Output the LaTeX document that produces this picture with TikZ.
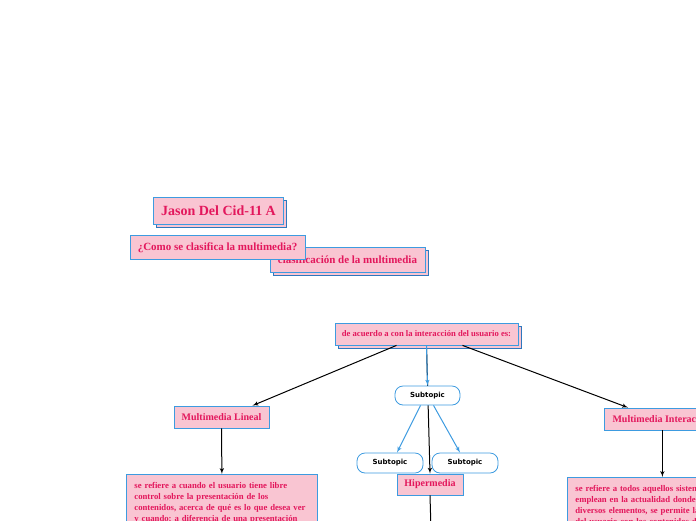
\documentclass[tikz,border=0pt]{standalone}
\usepackage{fontspec}
\setmainfont{Liberation Serif}
\newfontfamily\subfont{DejaVu Sans}
\usetikzlibrary{arrows,shadows,backgrounds}

\definecolor{pinkfill}{HTML}{F9C5D2}
\definecolor{boxblue}{HTML}{3D9BE0}
\definecolor{shadeblue}{HTML}{2E78BE}
\definecolor{pinktext}{HTML}{E3175C}

\begin{document}
\begin{tikzpicture}[x=1pt,y=-1pt]
	
	\tikzset{topic/.style = {shape=rectangle,draw=boxblue,fill=pinkfill,line width=0.8pt,text=pinktext,font=\bfseries,inner sep=0pt}}
	\tikzset{shade/.style = {general shadow={draw=shadeblue,fill=pinkfill,line width=0.8pt,shadow xshift=3pt,shadow yshift=-3pt}}}
	\tikzset{subtopic/.style = {shape=rectangle,rounded corners=8pt,draw=boxblue,fill=white,line width=0.8pt,font=\subfont\bfseries\fontsize{7}{8}\selectfont,minimum width=66pt,minimum height=20pt}}
	\tikzset{note/.style = {topic,anchor=north west,align=left,inner sep=8pt,text width=175pt,font=\bfseries\fontsize{8.7}{11}\selectfont}}
	\tikzset{edge/.style = {->,> = latex',line width=1pt}}
	\tikzset{bluedge/.style = {edge,draw=boxblue}}
	
	\clip (0,0) rectangle (696,520);
	\useasboundingbox (0,0) rectangle (696,520);
	
	\node[topic,shade,minimum width=130pt,minimum height=27pt,font=\bfseries\fontsize{14}{16}\selectfont] (name) at (218.5,210.5) {Jason Del Cid-11 A};
	\node[topic,shade,minimum width=155pt,minimum height=25pt,font=\bfseries\fontsize{11}{13}\selectfont] (clasif) at (347.5,260) {clasificación de la multimedia};
	\node[topic,minimum width=175pt,minimum height=24pt,font=\bfseries\fontsize{11}{13}\selectfont] (question) at (217.5,247.5) {¿Como se clasifica la multimedia?};
	
	\node[topic,shade,minimum width=183pt,minimum height=22pt,font=\bfseries\fontsize{8.6}{10}\selectfont] (acuerdo) at (426.5,334) {de acuerdo a con la interacción del usuario es:};
	
	\node[topic,minimum width=95pt,minimum height=22pt,font=\bfseries\fontsize{10}{12}\selectfont] (lineal) at (221.5,417) {Multimedia Lineal};
	\node[topic,anchor=west,minimum width=116pt,minimum height=22pt,font=\bfseries\fontsize{10}{12}\selectfont] (interac) at (604,419) {Multimedia Interactiva};
	\node[topic,minimum width=66pt,minimum height=21pt,font=\bfseries\fontsize{10}{12}\selectfont] (hiper) at (430,484.5) {Hipermedia};
	
	\node[note] (lineal-txt) at (126,474) {se refiere a cuando el usuario tiene libre\\ control sobre la presentación de los\\ contenidos, acerca de qué es lo que desea ver\\ y cuando; a diferencia de una presentación};
	\node[note] (interac-txt) at (567,477) {se refiere a todos aquellos sistemas que\\ emplean en la actualidad donde se combinan\\ diversos elementos, se permite la interacción\\ del usuario con los contenidos de la};
	
	\coordinate (hiper-end) at (431,530);
	
	\begin{scope}[on background layer]
		\draw[edge] (acuerdo.south) to (hiper.north);
	\end{scope}
	
	\node[subtopic,minimum width=65pt,minimum height=19pt] (sub) at (427.5,395.5) {Subtopic};
	\node[subtopic] (sub-l) at (390,463) {Subtopic};
	\node[subtopic] (sub-r) at (465,463) {Subtopic};
	
	\draw[edge] ([xshift=-30pt]acuerdo.south) to ([xshift=31pt]lineal.north);
	\draw[edge] ([xshift=36pt]acuerdo.south) to ([xshift=24pt]interac.north west);
	\draw[bluedge] (acuerdo.south) to (sub.north);
	\draw[bluedge] ([xshift=-7pt]sub.south) to ([xshift=7pt]sub-l.north);
	\draw[bluedge] ([xshift=6pt]sub.south) to ([xshift=-5pt]sub-r.north);
	\draw[edge] (lineal.south) to (lineal-txt.north);
	\draw[edge] (interac.south) to (interac.south |- interac-txt.north);
	\draw[edge] (hiper.south) to (hiper-end);
	\end{tikzpicture}
\end{document}
